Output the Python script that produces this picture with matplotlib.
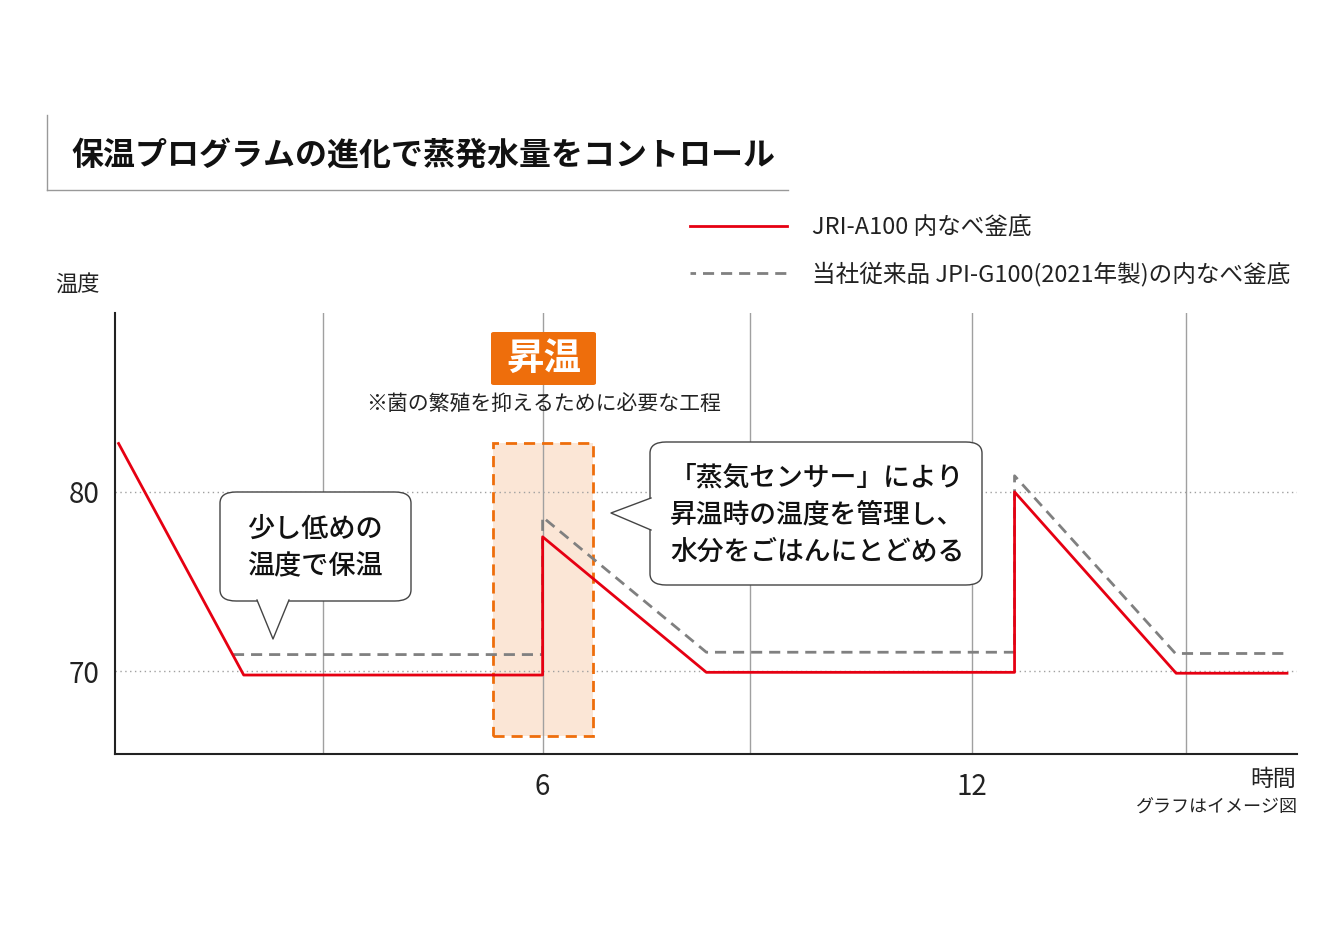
import matplotlib
matplotlib.use("Agg")
import matplotlib.pyplot as plt
from matplotlib.patches import FancyBboxPatch, Rectangle, Polygon
from matplotlib.lines import Line2D

plt.rcParams['font.family'] = ['Noto Sans CJK JP', 'DejaVu Sans']

W, H = 1344, 932

# series (time, temperature)
new_x = [0.07, 1.82, 6.0, 6.0, 8.29, 12.6, 12.6, 14.86, 16.41]
new_y = [82.7, 69.8, 69.8, 77.5, 69.95, 69.95, 80.0, 69.9, 69.9]
old_x = [1.67, 6.0, 6.0, 8.29, 12.6, 12.6, 14.85, 16.41]
old_y = [70.94, 70.94, 78.6, 71.07, 71.07, 80.9, 71.0, 71.0]

grid_x = [2.93, 6.0, 8.9, 12.0, 15.0]
x_ticks = [6, 12]
y_ticks = [70, 80]
heat_span = (5.31, 6.71)      # orange "昇温" window
heat_temp = (66.41, 82.73)

new_label = "JRI-A100 内なべ釜底"
old_label = "当社従来品 JPI-G100(2021年製)の内なべ釜底"
title = "保温プログラムの進化で蒸発水量をコントロール"

RED = "#e60012"
GRAY = "#808080"
ORANGE = "#ee6e0c"


def px(x, y):
    # pixel position (from top-left) -> figure fraction
    return x / W, 1 - y / H


fig = plt.figure(figsize=(W / 100, H / 100), dpi=100)
ax = fig.add_axes([115 / W, 1 - 754 / H, (1297 - 115) / W, (754 - 313) / H])
ax.set_xlim(0.02, 16.55)
ax.set_ylim(65.4, 89.97)

for s in ['top', 'right']:
    ax.spines[s].set_visible(False)
for s in ['left', 'bottom']:
    ax.spines[s].set_linewidth(1.5)
    ax.spines[s].set_color("#222222")

ax.set_xticks(x_ticks)
ax.set_yticks(y_ticks)
ax.tick_params(axis='both', length=0, labelsize=20, colors="#222222")
ax.tick_params(axis='y', pad=11)
ax.tick_params(axis='x', pad=13)

# grid
for gx in grid_x:
    ax.axvline(gx, color="#a0a0a0", lw=1, zorder=2)
for gy in y_ticks:
    ax.axhline(gy, color="#a0a0a0", lw=1, ls=(0, (1, 2.5)), zorder=2)

# heating window
ax.add_patch(Rectangle((heat_span[0], heat_temp[0]), heat_span[1] - heat_span[0],
                       heat_temp[1] - heat_temp[0], facecolor="#fbe6d6",
                       edgecolor="none", zorder=1))
ax.add_patch(Rectangle((heat_span[0], heat_temp[0]), heat_span[1] - heat_span[0],
                       heat_temp[1] - heat_temp[0], facecolor="none",
                       edgecolor=ORANGE, lw=2, ls=(0, (4, 2.5)), zorder=3))

# lines
ax.plot(old_x, old_y, color=GRAY, lw=2, ls=(0, (4, 2.5)), zorder=4)
ax.plot(new_x, new_y, color=RED, lw=2, zorder=5)

# title block
fig.add_artist(Line2D([47 / W, 47 / W], [1 - 115 / H, 1 - 190 / H], color="#999999", lw=1))
fig.add_artist(Line2D([47 / W, 788 / W], [1 - 190 / H, 1 - 190 / H], color="#999999", lw=1))
fig.text(*px(71, 156), title, fontsize=23, fontweight='bold', va='center', color="#111111")

# legend
fig.add_artist(Line2D([690 / W, 787 / W], [1 - 226 / H, 1 - 226 / H], color=RED, lw=2))
fig.add_artist(Line2D([690 / W, 787 / W], [1 - 273 / H, 1 - 273 / H], color=GRAY, lw=2,
                      ls=(2, (4, 2.5))))
fig.text(*px(812, 228), new_label, fontsize=17, va='center', color="#222222")
fig.text(*px(812, 274), old_label, fontsize=17, va='center', color="#222222")

# axis labels
fig.text(*px(55, 284), "温度", fontsize=16, va='center', color="#222222")
fig.text(*px(1296, 779), "時間", fontsize=16.5, va='center', ha='right', color="#222222")
fig.text(*px(1298, 808), "グラフはイメージ図", fontsize=13, va='center', ha='right', color="#222222")

# 昇温 label
fig.patches.append(FancyBboxPatch(px(491, 385), 105 / W, 53 / H,
                                  boxstyle="round,pad=0,rounding_size=0.002",
                                  transform=fig.transFigure, facecolor=ORANGE,
                                  edgecolor="none"))
fig.text(*px(543.5, 358), "昇温", fontsize=27, fontweight='bold', color="white",
         ha='center', va='center')
fig.text(*px(544, 405), "※菌の繁殖を抑えるために必要な工程", fontsize=15,
         ha='center', va='center', color="#222222")


def bubble(x0, y0, x1, y1, tail):
    w, h = (x1 - x0) / W, (y1 - y0) / H
    box = FancyBboxPatch(px(x0, y1), w, h, boxstyle="round,pad=0,rounding_size=0.012",
                         transform=fig.transFigure, facecolor="white",
                         edgecolor="#444444", lw=1, zorder=10)
    fig.patches.append(box)
    pts = [px(*p) for p in tail]
    fig.patches.append(Polygon(pts, closed=True, transform=fig.transFigure,
                               facecolor="white", edgecolor="none", zorder=11))
    fig.add_artist(Line2D([pts[0][0], pts[1][0], pts[2][0]],
                          [pts[0][1], pts[1][1], pts[2][1]],
                          color="#444444", lw=1, zorder=12))


bubble(220, 492, 411, 601, [(257, 600), (273, 639), (289, 600)])
fig.text(*px(247, 548), "少し低めの\n温度で保温", fontsize=19.5, fontweight='medium',
         va='center', ha='left', linespacing=1.5, color="#111111", zorder=13)

bubble(650, 442, 982, 585, [(651, 498), (611, 513), (651, 530)])
fig.text(*px(670, 515), "「蒸気センサー」により\n昇温時の温度を管理し、\n水分をごはんにとどめる",
         fontsize=19.3, fontweight='medium', va='center', ha='left', linespacing=1.5,
         color="#111111", zorder=13)

fig.savefig("out.png", dpi=100)
